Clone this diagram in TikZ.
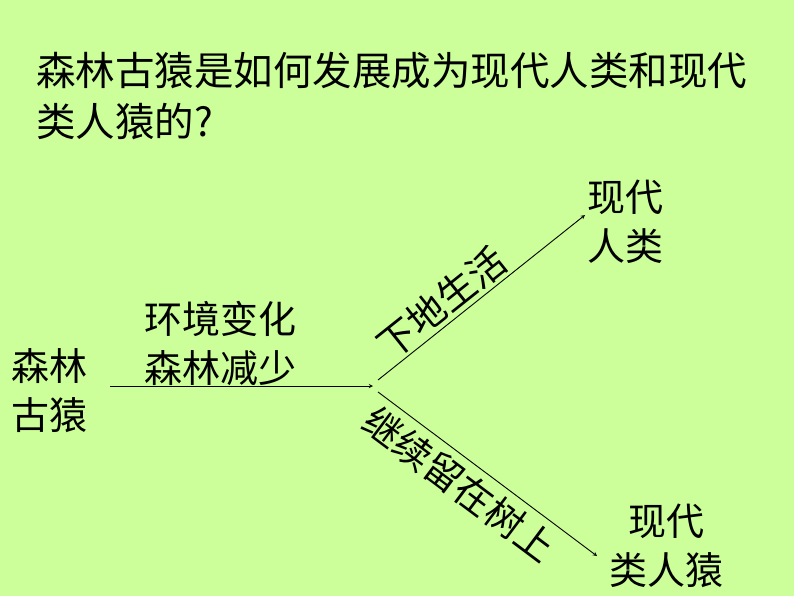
\documentclass[tikz,border=0pt]{standalone}
\usepackage{fontspec}
\setmainfont{Noto Sans CJK SC}
\definecolor{slidegreen}{HTML}{CCFF99}
\begin{document}
\begin{tikzpicture}[x=1pt,y=-1pt,
  every node/.style={inner sep=0pt, align=center, font=\fontsize{38}{49}\selectfont},
  branch/.style={-stealth, line width=0.9pt}]
  \fill[slidegreen] (0,0) rectangle (794,596); % slide background

  \node[anchor=west, align=left, font=\fontsize{39.5}{51}\selectfont] (question) at (36,96) {森林古猿是如何发展成为现代人类和现代\\类人猿的?};

  \node (ape) at (49,391) {森林\\古猿};
  \node (cause) at (220,343) {环境变化\\森林减少};
  \node (human) at (625,222) {现代\\人类};
  \node (greatape) at (666,546) {现代\\类人猿};

  \coordinate (start) at (110,386);
  \coordinate (fork) at (373,386);
  \coordinate (upfrom) at (378,380);
  \coordinate (downfrom) at (378,392);
  \coordinate (upto) at (585,215);
  \coordinate (downto) at (597,556);

  \draw[branch] (start) -- (fork);
  \draw[branch] (upfrom) -- (upto) node[sloped, above, pos=0.37, inner sep=3pt]{下地生活};
  \draw[branch] (downfrom) -- (downto) node[sloped, below, pos=0.44, inner sep=7pt]{继续留在树上};
\end{tikzpicture}
\end{document}
